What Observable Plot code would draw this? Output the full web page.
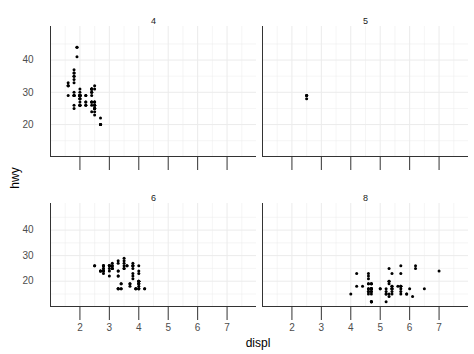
<!DOCTYPE html>
<html>
<head>
<meta charset="utf-8">
<script src="https://cdn.jsdelivr.net/npm/d3@7"></script>
<script src="https://cdn.jsdelivr.net/npm/@observablehq/plot@0.6"></script>
<style>
  html, body { margin: 0; padding: 0; background: #ffffff; }
  #chart { position: relative; width: 474px; height: 354px; background: #ffffff; overflow: hidden;
           font-family: "Liberation Sans", Arial, sans-serif; }
  .cell { position: absolute; }
  .title { position: absolute; font-size: 12px; color: #000; white-space: nowrap; }
</style>
</head>
<body>
<div id="chart"></div>
<script>
// facet labels (cyl)
const facets = ["4", "5", "6", "8"];
const xTicks = [2, 3, 4, 5, 6, 7];
const yTicks = [20, 30, 40];
const xMinor = [1.5, 2.5, 3.5, 4.5, 5.5, 6.5, 7.5];
const yMinor = [15, 25, 35, 45];

// cyl = 4
const displ4 = [1.8,1.8,2.0,2.0,1.8,1.8,2.0,2.0,2.4,2.4,2.4,1.6,1.6,1.6,1.6,1.6,1.8,1.8,1.8,2.0,2.4,2.4,2.4,2.4,2.0,2.0,2.0,2.0,2.4,2.4,2.5,2.5,2.5,2.5,2.5,2.5,2.5,2.5,2.2,2.2,2.5,2.5,2.5,2.5,2.5,2.5,2.7,2.7,2.2,2.2,2.4,2.4,2.2,2.2,2.4,2.4,1.8,1.8,1.8,1.8,1.8,2.7,2.7,2.7,2.0,2.0,2.0,2.0,1.9,2.0,2.0,2.0,2.0,1.9,1.9,2.0,2.0,1.8,1.8,2.0,2.0];
const hwy4   = [29,29,31,30,26,25,28,27,27,30,24,33,32,32,29,32,34,36,36,29,26,27,30,31,26,29,28,29,29,27,31,32,25,24,27,25,26,23,26,26,26,26,27,25,27,25,20,20,29,27,31,31,27,29,31,31,30,33,35,37,35,20,20,22,29,26,29,29,44,29,26,29,29,44,41,29,26,29,29,28,29];
// cyl = 5
const displ5 = [2.5,2.5,2.5,2.5];
const hwy5   = [29,29,28,29];
// cyl = 6
const displ6 = [2.8,2.8,3.1,2.8,2.8,3.1,3.1,2.8,3.1,3.1,3.5,3.6,3.0,3.3,3.3,3.3,3.3,3.3,3.8,3.8,3.8,4.0,3.7,3.7,3.9,3.9,3.9,4.0,4.0,4.0,4.0,4.2,4.2,3.8,3.8,4.0,4.0,2.5,2.5,3.3,2.7,2.7,2.7,3.0,3.7,4.0,4.0,4.0,3.5,3.5,3.0,3.0,3.5,3.5,3.3,3.3,4.0,3.1,3.8,3.8,3.8,3.4,3.4,4.0,3.0,3.0,3.5,3.0,3.0,3.3,3.4,3.4,4.0,4.0,2.8,2.8,2.8,2.8,2.8,3.6];
const hwy6   = [26,26,27,25,25,25,25,24,25,26,29,26,24,22,22,24,24,17,22,21,23,23,19,18,17,17,17,17,19,17,19,17,17,26,25,26,24,26,26,28,24,24,24,22,19,20,17,19,27,26,26,25,25,25,17,17,20,26,26,27,26,19,17,20,26,26,28,26,26,27,17,19,18,20,24,23,24,26,26,26];
// cyl = 8
const displ8 = [4.2,5.3,5.3,5.3,5.7,6.0,5.7,5.7,6.2,6.2,7.0,5.3,5.3,5.7,6.5,4.7,4.7,4.7,5.2,5.2,4.7,4.7,4.7,5.2,5.7,5.9,4.7,4.7,4.7,4.7,4.7,5.2,5.2,5.7,5.9,4.6,5.4,5.4,4.6,5.0,4.6,4.6,4.6,5.4,5.4,4.6,4.6,4.6,5.4,4.7,4.7,4.7,5.7,6.1,4.0,4.2,4.4,4.6,5.4,5.4,5.4,4.6,5.0,5.6,5.3,4.7,4.7,5.7];
const hwy8   = [23,20,15,20,17,17,26,23,26,25,24,19,14,15,17,19,19,12,17,15,17,12,17,16,18,15,16,12,17,17,16,12,15,16,15,17,17,18,19,17,16,16,17,15,17,21,22,23,23,17,12,19,18,14,15,18,18,15,17,16,18,19,17,18,25,17,15,18];

const xLabel = "displ";
const yLabel = "hwy";

const series = {"4": [displ4, hwy4], "5": [displ5, hwy5], "6": [displ6, hwy6], "8": [displ8, hwy8]};

const xDomain = [1.0, 8.0];
const yDomain = [10.1, 50.4];

function panel(label, opts) {
  const [xs, ys] = series[label];
  const data = xs.map((d, i) => ({displ: d, hwy: ys[i]}));
  const marks = [
    Plot.ruleX(xMinor, {stroke: "#ebebeb", strokeWidth: 0.5}),
    Plot.ruleY(yMinor, {stroke: "#ebebeb", strokeWidth: 0.5}),
    Plot.ruleX(xTicks, {stroke: "#ebebeb", strokeWidth: 1}),
    Plot.ruleY(yTicks, {stroke: "#ebebeb", strokeWidth: 1}),
    Plot.ruleX([xDomain[0]], {stroke: "#333333", strokeWidth: 1}),
    Plot.ruleY([yDomain[0]], {stroke: "#333333", strokeWidth: 1}),
    Plot.dot(data, {x: "displ", y: "hwy", r: 1.5, fill: "#000000", stroke: null}),
    Plot.axisX({ticks: xTicks, tickSize: 14, tickPadding: 3, stroke: "#333333", fill: "#4d4d4d",
                fontSize: 10, label: null,
                tickFormat: opts.xLabels ? (d => String(d)) : (() => "")}),
    Plot.text([label], {text: d => d, frameAnchor: "top", dy: -9, fontSize: 9, fill: "#1a1a1a"})
  ];
  if (opts.yLabels) {
    marks.push(Plot.axisY({ticks: yTicks, tickSize: 0, tickPadding: 17, fill: "#4d4d4d",
                           fontSize: 10, label: null}));
  }
  const svg = Plot.plot({
    width: opts.width, height: opts.height,
    marginTop: opts.mt, marginBottom: opts.mb, marginLeft: opts.ml, marginRight: opts.mr,
    x: {domain: xDomain, label: null},
    y: {domain: yDomain, label: null, axis: opts.yLabels ? undefined : null},
    style: {fontFamily: "Liberation Sans, Arial, sans-serif", fontSize: "10px", background: "transparent", overflow: "visible"},
    marks
  });
  const div = document.createElement("div");
  div.className = "cell";
  div.style.left = opts.left + "px";
  div.style.top = opts.top + "px";
  div.appendChild(svg);
  return div;
}

const chart = document.getElementById("chart");
chart.appendChild(panel("4", {left: 0, top: 0, width: 256, height: 176, mt: 26, mb: 20, ml: 50, mr: 0, yLabels: true, xLabels: false}));
chart.appendChild(panel("5", {left: 256, top: 0, width: 218, height: 176, mt: 26, mb: 20, ml: 6, mr: 6, yLabels: false, xLabels: false}));
chart.appendChild(panel("6", {left: 0, top: 177, width: 256, height: 177, mt: 26, mb: 48, ml: 50, mr: 0, yLabels: true, xLabels: true}));
chart.appendChild(panel("8", {left: 256, top: 177, width: 218, height: 177, mt: 26, mb: 48, ml: 6, mr: 6, yLabels: false, xLabels: true}));

const xt = document.createElement("div");
xt.className = "title";
xt.textContent = xLabel;
xt.style.left = "258px";
xt.style.top = "343px";
xt.style.transform = "translate(-50%, -50%)";
chart.appendChild(xt);

const yt = document.createElement("div");
yt.className = "title";
yt.textContent = yLabel;
yt.style.left = "15px";
yt.style.top = "178px";
yt.style.transform = "translate(-50%, -50%) rotate(-90deg)";
chart.appendChild(yt);
</script>
</body>
</html>
